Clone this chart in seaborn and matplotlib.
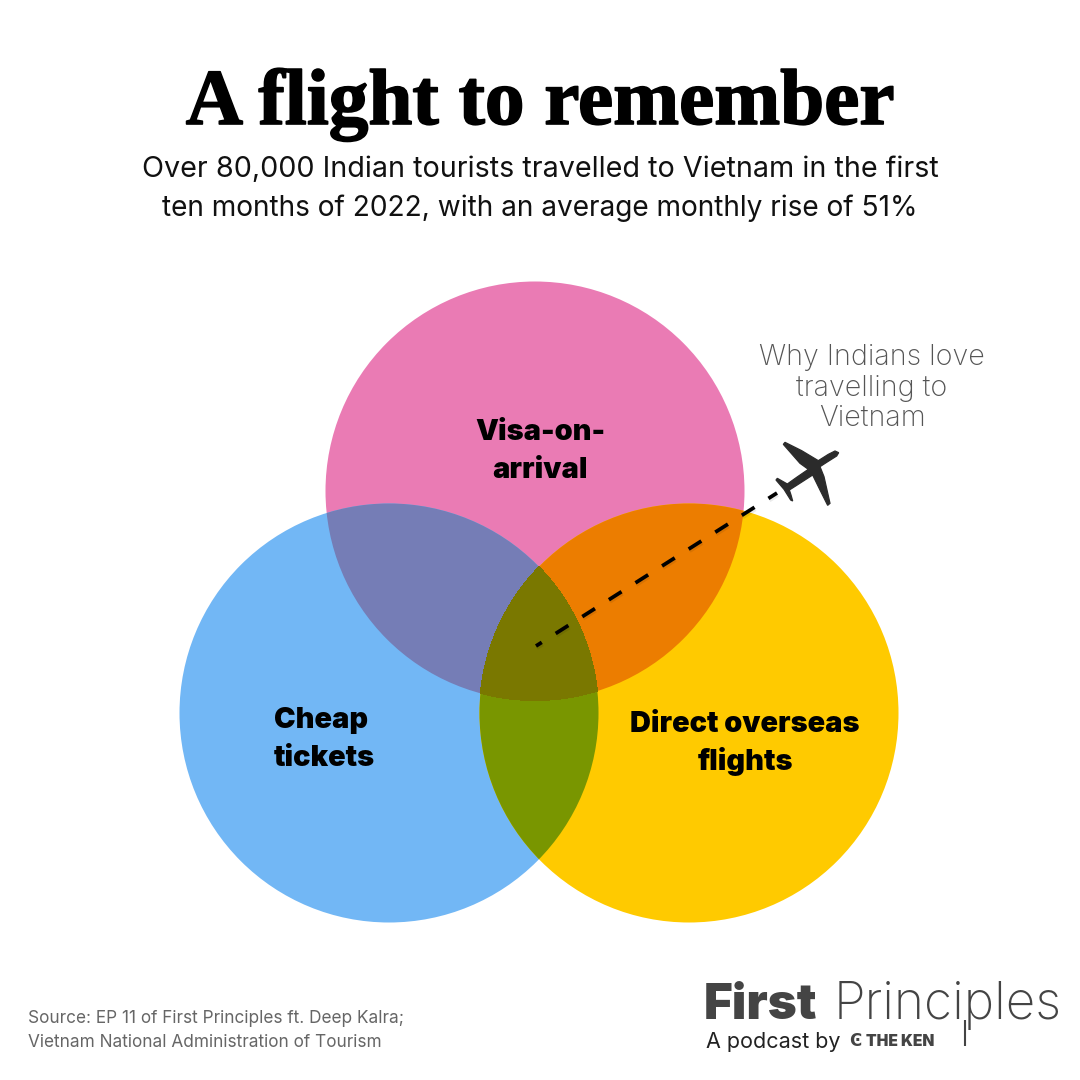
import matplotlib
matplotlib.use("Agg")
import matplotlib.pyplot as plt
import matplotlib.patheffects as pe
from matplotlib.patches import Circle, Polygon
from matplotlib.textpath import TextPath
from matplotlib.font_manager import FontProperties
import numpy as np
import pandas as pd
import seaborn as sns

sns.set_style("white")

title = "A flight to remember"
subtitle = ["Over 80,000 Indian tourists travelled to Vietnam in the first",
            "ten months of 2022, with an average monthly rise of 51%"]
reasons = ["Visa-on-\narrival", "Cheap\ntickets", "Direct overseas\nflights"]
circle_x = [535, 389, 689]
circle_y = [491, 713, 713]
circle_colors = ["#EA7BB4", "#72B7F5", "#FFCA00"]
route_x = [536, 777]
route_y = [646, 493]
note = ["Why Indians love", "travelling to", "Vietnam"]
source = ["Source: EP 11 of First Principles ft. Deep Kalra;",
          "Vietnam National Administration of Tourism"]

radius = 209.5

fig, ax = plt.subplots(figsize=(10.8, 10.8), dpi=100)
fig.subplots_adjust(0, 0, 1, 1)

# base circles
df = pd.DataFrame({"x": circle_x, "y": circle_y, "name": reasons})
sns.scatterplot(data=df, x="x", y="y", hue="name", palette=circle_colors,
                s=(2 * radius * 0.72) ** 2, linewidth=0, legend=False, ax=ax, zorder=1)
ax.set_xlim(0, 1080)
ax.set_ylim(1080, 0)
ax.axis("off")

# overlaps get their own flat colours, clipped to the circle they sit inside
def overlap(i, j, color):
    patch = Circle((circle_x[i], circle_y[i]), radius, fc=color, ec="none", zorder=2)
    ax.add_patch(patch)
    patch.set_clip_path(Circle((circle_x[j], circle_y[j]), radius, transform=ax.transData))

overlap(0, 1, "#757DB6")
overlap(0, 2, "#EC7D00")
overlap(1, 2, "#799600")

# middle part where all three meet
gx, gy = np.meshgrid(np.arange(470, 610, 0.25), np.arange(555, 705, 0.25))
mask = np.ones_like(gx, dtype=bool)
for cx, cy in zip(circle_x, circle_y):
    mask &= (gx - cx) ** 2 + (gy - cy) ** 2 <= radius ** 2
ax.contourf(gx, gy, mask.astype(float), levels=[0.5, 1.5], colors=["#7A7800"], zorder=3)

# route
sns.lineplot(x=route_x, y=route_y, sort=False, estimator=None, color="black", ax=ax, zorder=4)
line = ax.lines[-1]
line.set_linewidth(2.7)
line.set_linestyle((2.18, (4.0, 4.4)))
line.set_dash_capstyle("butt")
line.set_path_effects([pe.SimpleLineShadow(offset=(0.7, -1.5), shadow_color="black", alpha=0.08), pe.Normal()])
ax.set_xlabel("")
ax.set_ylabel("")

plane = [(476, 368), (470, 378), (440, 397), (420, 410), (432, 440), (450, 520), (443, 526),
         (420, 480), (398, 435), (350, 466), (328, 480), (333, 495), (338, 513), (332, 510),
         (312, 478), (288, 450), (292, 445), (322, 462), (350, 442), (385, 418), (360, 400),
         (310, 343), (315, 337), (365, 362), (415, 392), (445, 373), (465, 363)]
ax.add_patch(Polygon([(680 + a / 3, 330 + b / 3) for a, b in plane], fc="#2B2B2B", ec="#2B2B2B", lw=0.9, zorder=5))

# text
ax.text(540, 124, title, family="Liberation Serif", weight="bold", fontsize=57, ha="center",
        va="baseline", color="black",
        path_effects=[pe.withStroke(linewidth=1.2, foreground="black")])
for s, y, size in zip(subtitle, [177, 216], [20.7, 20.2]):
    ax.text(540, y, s, family="Inter", fontsize=size, ha="center", va="baseline", color="#111111")

label_x = [540, 274, 745]
label_y = [440, 728, 732]
label_ha = ["center", "left", "center"]
for s, x, y, ha in zip(reasons, label_x, label_y, label_ha):
    for i, part in enumerate(s.split("\n")):
        ax.text(x, y + i * 37.5, part, family="Inter", weight="black", fontsize=20.8,
                ha=ha, va="baseline", color="black")

for s, y in zip(note, [365, 396, 426]):
    ax.text(872, y, s, family="Inter", weight="light", fontsize=20.6, ha="center", va="baseline", color="#555555")

for s, y in zip(source, [1023, 1047]):
    ax.text(28, y, s, family="Inter", fontsize=12.4, ha="left", va="baseline", color="#666666")

ax.text(704, 1019, "First", family="Inter", weight="black", fontsize=35.5, ha="left", va="baseline", color="#444444")
ax.text(834, 1019, "Principles", family="Inter", weight="light", fontsize=37, ha="left", va="baseline", color="#444444")

# long descender on the second p: take the stem position from the glyph outlines
fp = FontProperties(family="Inter", weight="light")
px_size = 37 / 0.72
stem_left = TextPath((0, 0), "Princi", size=px_size, prop=fp).get_extents().x1
stem_x = 834 + stem_left + 0.085 * px_size
ax.plot([stem_x, stem_x], [1020, 1046], color="#444444", lw=1.5, solid_capstyle="butt")

ax.text(706, 1048, "A podcast by", family="Inter", fontsize=15.5, ha="left", va="baseline", color="#222222")
ax.text(849, 1046, "\u03fe", family="DejaVu Sans", weight="bold", fontsize=12, ha="left", va="baseline", color="#444444")
ax.text(866, 1046, "THE KEN", family="Inter", weight="black", fontsize=11.2, ha="left", va="baseline", color="#444444")

fig.savefig("out.png", dpi=100)
